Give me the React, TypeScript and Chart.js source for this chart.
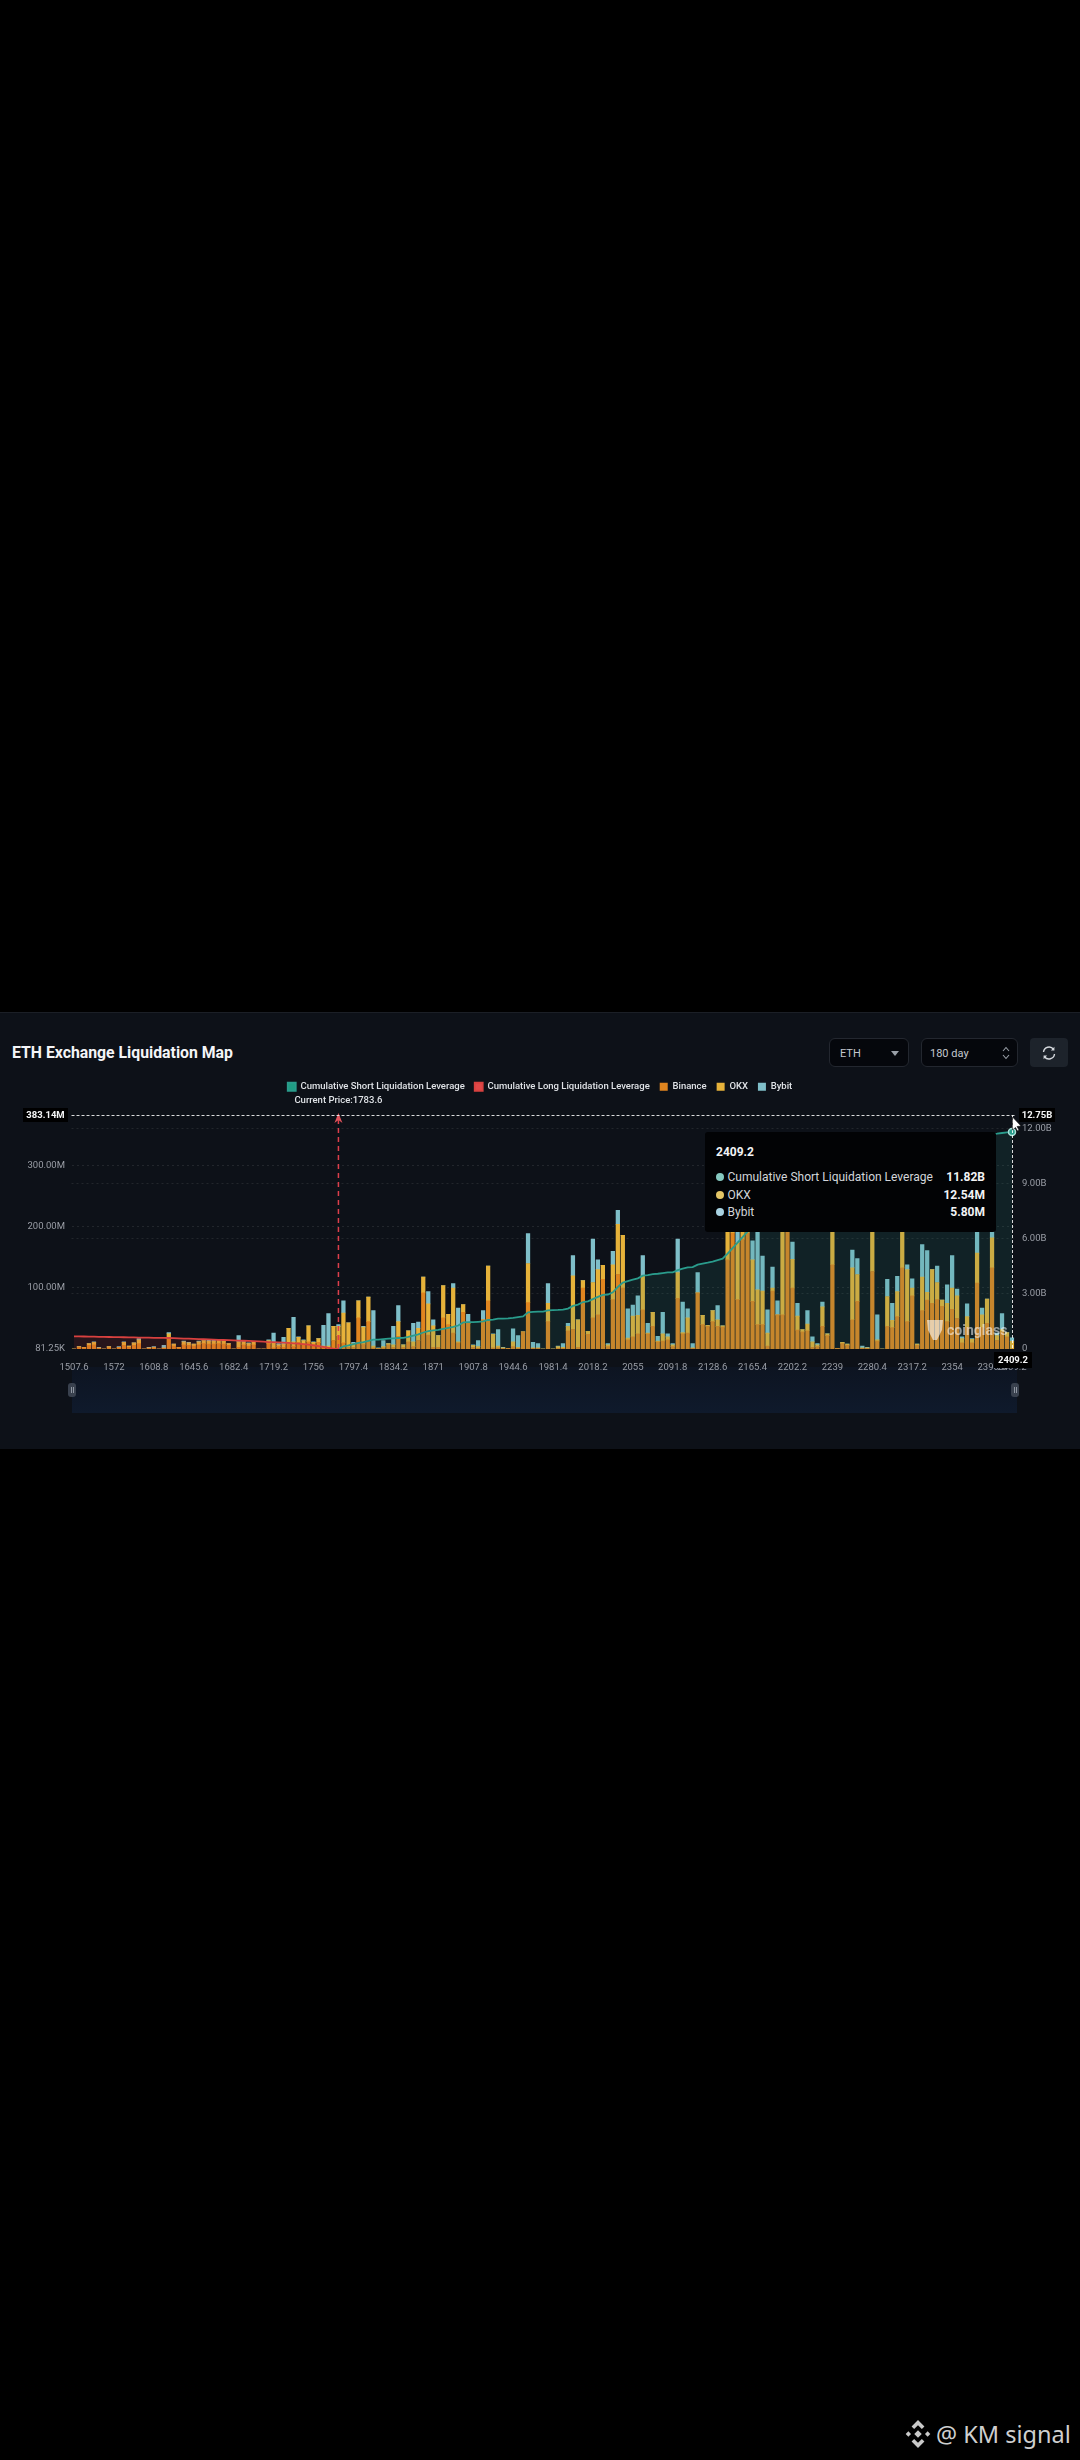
import React, { useEffect, useRef } from "react";
import { Chart, registerables } from "chart.js";

Chart.register(...registerables);

const prices = [
  1507.6, 1512.2, 1521.4, 1530.6, 1539.8, 1549, 1558.2, 1567.4, 1572,
  1576.6, 1581.2, 1585.8, 1590.4, 1595, 1599.6, 1604.2, 1608.8,
  1613.4, 1618, 1622.6, 1627.2, 1631.8, 1636.4, 1641, 1645.6,
  1650.2, 1654.8, 1659.4, 1664, 1668.6, 1673.2, 1677.8, 1682.4,
  1687, 1691.6, 1696.2, 1700.8, 1705.4, 1710, 1714.6, 1719.2,
  1723.8, 1728.4, 1733, 1737.6, 1742.2, 1746.8, 1751.4, 1756,
  1760.6, 1765.2, 1769.8, 1774.4, 1783.6, 1788.2, 1792.8, 1797.4,
  1802, 1806.6, 1811.2, 1815.8, 1820.4, 1825, 1829.6, 1834.2,
  1838.8, 1843.4, 1848, 1852.6, 1857.2, 1861.8, 1866.4, 1871,
  1875.6, 1880.2, 1884.8, 1889.4, 1894, 1898.6, 1903.2, 1907.8,
  1912.4, 1917, 1921.6, 1926.2, 1930.8, 1935.4, 1940, 1944.6,
  1949.2, 1953.8, 1958.4, 1963, 1967.6, 1972.2, 1976.8, 1981.4,
  1986, 1990.6, 1995.2, 1999.8, 2004.4, 2009, 2013.6, 2018.2,
  2022.8, 2027.4, 2032, 2036.6, 2041.2, 2045.8, 2050.4, 2055,
  2059.6, 2064.2, 2068.8, 2073.4, 2078, 2082.6, 2087.2, 2091.8,
  2096.4, 2101, 2105.6, 2110.2, 2114.8, 2119.4, 2124, 2128.6,
  2133.2, 2137.8, 2142.4, 2147, 2151.6, 2156.2, 2160.8, 2165.4,
  2170, 2174.6, 2179.2, 2183.8, 2188.4, 2193, 2197.6, 2202.2,
  2206.8, 2211.4, 2216, 2220.6, 2225.2, 2229.8, 2234.4, 2239,
  2243.6, 2248.2, 2252.8, 2257.4, 2262, 2266.6, 2275.8, 2280.4,
  2285, 2289.6, 2294.2, 2298.8, 2303.4, 2308, 2312.6, 2317.2,
  2321.8, 2326.4, 2331, 2335.6, 2340.2, 2344.8, 2349.4, 2354,
  2358.6, 2363.2, 2367.8, 2372.4, 2377, 2381.6, 2386.2, 2390.8,
  2395.4, 2400, 2404.6, 2409.2,
];

const xTickLabels = [
  1507.6, 1572, 1608.8, 1645.6, 1682.4, 1719.2, 1756, 1797.4, 1834.2, 1871, 1907.8, 1944.6,
  1981.4, 2018.2, 2055, 2091.8, 2128.6, 2165.4, 2202.2, 2239, 2280.4, 2317.2, 2354, 2390.8, 2409.2,
];

const binance = [
  0, 3, 2, 6, 7, 1, 0, 2, 0, 2,
  6, 3, 6, 9, 0, 1, 2, 0, 1, 18,
  5, 2, 7, 6, 5, 7, 9, 8, 8, 9,
  8, 6, 0, 3, 7, 5, 7, 0, 0, 9,
  2, 4, 3, 10, 4, 11, 8, 12, 8, 11,
  3, 3, 14, 22, 10, 3, 3, 51, 8, 45,
  2, 1, 2, 7, 3, 21, 3, 12, 4, 14,
  92, 23, 3, 3, 51, 40, 26, 10, 60, 42,
  3, 1, 48, 79, 2, 2, 1, 1, 4, 1,
  28, 76, 1, 1, 0, 45, 0, 1, 1, 30,
  32, 3, 100, 24, 51, 56, 114, 4, 81, 122,
  100, 15, 20, 25, 64, 25, 37, 12, 13, 15,
  4, 83, 25, 26, 1, 92, 40, 37, 45, 37,
  36, 146, 190, 81, 180, 190, 78, 40, 40, 5,
  95, 56, 56, 230, 100, 31, 28, 30, 3, 4,
  37, 22, 138, 1, 9, 6, 48, 78, 1, 1,
  127, 13, 0, 37, 35, 53, 133, 45, 87, 6,
  63, 80, 75, 81, 70, 45, 65, 50, 10, 35,
  10, 108, 35, 42, 133, 14, 28, 20, 0,
];

const okx = [
  0, 1, 1, 3, 4, 1, 0, 2, 0, 1,
  5, 2, 4, 6, 0, 1, 1, 0, 1, 7,
  3, 1, 5, 4, 3, 5, 5, 5, 5, 6,
  5, 3, 0, 9, 5, 4, 5, 0, 0, 5,
  8, 3, 5, 24, 8, 8, 6, 26, 3, 6,
  2, 2, 23, 15, 49, 40, 6, 28, 28, 40,
  3, 0, 2, 2, 4, 24, 4, 18, 8, 20,
  26, 51, 35, 19, 53, 17, 74, 2, 13, 0,
  3, 3, 0, 57, 22, 3, 1, 0, 8, 2,
  0, 64, 1, 1, 0, 30, 0, 3, 2, 7,
  88, 45, 12, 5, 58, 74, 23, 3, 57, 82,
  86, 3, 34, 30, 56, 1, 23, 1, 12, 5,
  3, 42, 2, 25, 1, 0, 15, 2, 18, 11,
  2, 100, 60, 93, 50, 30, 68, 57, 55, 21,
  5, 0, 190, 10, 47, 23, 4, 11, 9, 3,
  32, 3, 120, 0, 2, 2, 85, 44, 1, 1,
  130, 2, 0, 49, 12, 41, 120, 85, 13, 2,
  55, 13, 55, 28, 10, 30, 35, 37, 7, 18,
  6, 49, 21, 40, 49, 8, 4, 7, 12.54,
];

const bybit = [
  0, 0, 0, 0, 1, 1, 0, 0, 0, 1,
  1, 0, 0, 2, 0, 1, 1, 0, 4, 2,
  0, 0, 1, 1, 0, 1, 1, 2, 2, 1,
  1, 0, 0, 10, 2, 1, 0, 0, 0, 1,
  16, 2, 11, 0, 40, 1, 1, 0, 1, 0,
  34, 53, 0, 3, 20, 0, 2, 0, 1, 0,
  58, 1, 10, 0, 30, 26, 0, 0, 30, 10,
  0, 20, 10, 0, 0, 0, 7, 55, 0, 15,
  1, 10, 15, 0, 1, 27, 1, 0, 21, 19,
  0, 49, 9, 7, 0, 32, 0, 1, 6, 5,
  33, 0, 0, 0, 71, 16, 0, 2, 22, 23,
  0, 48, 18, 32, 33, 16, 0, 8, 35, 5,
  2, 55, 50, 15, 7, 33, 0, 0, 0, 23,
  0, 0, 0, 80, 10, 0, 31, 100, 57, 38,
  34, 23, 0, 0, 28, 21, 0, 22, 8, 2,
  8, 0, 0, 0, 0, 0, 29, 26, 3, 1,
  0, 41, 0, 28, 28, 25, 0, 8, 15, 0,
  53, 68, 0, 27, 0, 30, 53, 11, 3, 21,
  1, 40, 11, 0, 30, 4, 26, 0, 5.8,
];

const cumulativeLong = [
  0.69, 0.685, 0.68, 0.675, 0.67, 0.665, 0.66, 0.655, 0.65, 0.645,
  0.64, 0.635, 0.63, 0.625, 0.62, 0.615, 0.61, 0.605, 0.605, 0.6,
  0.59, 0.58, 0.57, 0.56, 0.55, 0.54, 0.53, 0.52, 0.51, 0.5,
  0.49, 0.48, 0.47, 0.46, 0.45, 0.44, 0.43, 0.42, 0.4, 0.38,
  0.37, 0.36, 0.35, 0.33, 0.31, 0.29, 0.27, 0.24, 0.2, 0.16,
  0.11, 0.06, 0.02, 0, null, null, null, null, null, null,
];

const cumulativeShort = [
  null, null, null, null, null, null, null, null, null, null,
  null, null, null, null, null, null, null, null, null, null,
  null, null, null, null, null, null, null, null, null, null,
  null, null, null, null, null, null, null, null, null, null,
  null, null, null, null, null, null, null, null, null, null,
  null, null, null, 0, 0.15, 0.2, 0.27, 0.33, 0.38, 0.44,
  0.51, 0.51, 0.54, 0.56, 0.58, 0.6, 0.61, 0.66, 0.73, 0.8,
  0.9, 0.98, 1.02, 1.04, 1.1, 1.15, 1.2, 1.28, 1.45, 1.46,
  1.46, 1.48, 1.5, 1.58, 1.6, 1.65, 1.66, 1.67, 1.7, 1.74,
  1.78, 2.0, 2.02, 2.04, 2.04, 2.1, 2.12, 2.13, 2.15, 2.2,
  2.35, 2.42, 2.56, 2.6, 2.72, 2.84, 2.95, 2.97, 3.09, 3.38,
  3.62, 3.7, 3.78, 3.85, 4.0, 4.03, 4.08, 4.1, 4.14, 4.17,
  4.18, 4.3, 4.38, 4.45, 4.46, 4.6, 4.65, 4.7, 4.76, 4.84,
  4.92, 5.2, 5.5, 5.8, 6.1, 6.4, 6.58, 6.77, 6.93, 6.99,
  7.12, 7.2, 7.45, 7.69, 7.86, 7.94, 7.97, 8.03, 8.05, 8.06,
  8.14, 8.16, 8.42, 8.42, 8.43, 8.44, 8.6, 8.75, 8.75, 8.76,
  9.01, 9.07, 9.07, 9.18, 9.26, 9.38, 9.63, 9.77, 9.88, 9.89,
  10.06, 10.22, 10.35, 10.49, 10.57, 10.67, 10.83, 10.93, 10.95, 11.02,
  11.08, 11.32, 11.42, 11.52, 11.7, 11.73, 11.77, 11.8, 11.82,
];

const leftTicks = [0.08125, 100, 200, 300];
const rightTicks = [0, 3, 6, 9, 12];
const leftTop = 383.14;
const rightTop = 12.75;
const currentPrice = 1783.6;
const hoverPrice = 2409.2;

const FONT = "Roboto, sans-serif";
const TICK = "#9a9ea6";

const overlayPlugin = {
  id: "overlay",
  beforeLayout(chart: any) {
    const l = chart.legend;
    if (l && !l.__patched) {
      const f = l.fit;
      l.fit = function () {
        f.call(this);
        this.height = 43;
      };
      l.__patched = true;
    }
  },
  afterDraw(chart: any) {
    const { ctx, scales, chartArea } = chart;
    const xs = scales.x;
    const ys = scales.y;
    const yTop = ys.getPixelForValue(leftTop);
    const yBase = chartArea.bottom;
    const xCur = xs.getPixelForValue(prices.indexOf(currentPrice));
    const xHover = xs.getPixelForValue(prices.indexOf(hoverPrice));
    ctx.save();

    // current price marker
    ctx.strokeStyle = "#dd3f4b";
    ctx.lineWidth = 1.5;
    ctx.setLineDash([5, 4]);
    ctx.beginPath();
    ctx.moveTo(xCur, yBase);
    ctx.lineTo(xCur, yTop + 4);
    ctx.stroke();
    ctx.setLineDash([]);
    ctx.fillStyle = "#e0535c";
    ctx.beginPath();
    ctx.moveTo(xCur, yTop - 2);
    ctx.lineTo(xCur + 4, yTop + 8);
    ctx.lineTo(xCur, yTop + 5);
    ctx.lineTo(xCur - 4, yTop + 8);
    ctx.closePath();
    ctx.fill();
    ctx.fillStyle = "#dfe2e6";
    ctx.font = `500 9.5px ${FONT}`;
    ctx.textAlign = "center";
    ctx.textBaseline = "middle";
    ctx.fillText(`Current Price:${currentPrice}`, xCur, 1101 - 1072);

    // crosshair
    ctx.strokeStyle = "rgba(255,255,255,0.85)";
    ctx.lineWidth = 1;
    ctx.setLineDash([3, 2]);
    ctx.beginPath();
    ctx.moveTo(chartArea.left, yTop + 0.5);
    ctx.lineTo(chartArea.right, yTop + 0.5);
    ctx.moveTo(xHover + 0.5, yTop);
    ctx.lineTo(xHover + 0.5, yBase);
    ctx.stroke();
    ctx.setLineDash([]);

    // watermark
    ctx.fillStyle = "rgba(255,255,255,0.55)";
    ctx.font = `700 14px ${FONT}`;
    ctx.textAlign = "left";
    ctx.fillText("coinglass", 947, 1331 - 1072);
    ctx.fillStyle = "rgba(255,255,255,0.6)";
    ctx.beginPath();
    const wy = 1320 - 1072;
    ctx.moveTo(927, wy);
    ctx.lineTo(943, wy);
    ctx.lineTo(942, wy + 10);
    ctx.lineTo(937, wy + 20);
    ctx.lineTo(933, wy + 20);
    ctx.lineTo(928, wy + 10);
    ctx.closePath();
    ctx.fill();

    // axis pointer labels
    const box = (text: string, x: number, y: number, w: number, h: number) => {
      ctx.fillStyle = "#000";
      ctx.fillRect(x, y, w, h);
      ctx.fillStyle = "#f5f6f7";
      ctx.font = `700 9.5px ${FONT}`;
      ctx.textAlign = "center";
      ctx.textBaseline = "middle";
      ctx.fillText(text, x + w / 2, y + h / 2 + 0.5);
    };
    box(`${leftTop.toFixed(2)}M`, 23, yTop - 7, 45, 14);
    box(`${rightTop.toFixed(2)}B`, 1019, yTop - 7, 36, 14);
    box(`${hoverPrice}`, 994, yBase + 3, 38, 16);

    // cursor
    ctx.fillStyle = "#fff";
    ctx.strokeStyle = "#111";
    ctx.lineWidth = 0.6;
    const cx = xHover + 0.5;
    const cy = yTop + 2;
    ctx.beginPath();
    ctx.moveTo(cx, cy);
    ctx.lineTo(cx, cy + 13);
    ctx.lineTo(cx + 3, cy + 10.5);
    ctx.lineTo(cx + 5, cy + 14);
    ctx.lineTo(cx + 6.5, cy + 13);
    ctx.lineTo(cx + 4.5, cy + 9.5);
    ctx.lineTo(cx + 8.5, cy + 9);
    ctx.closePath();
    ctx.fill();
    ctx.stroke();
    ctx.restore();
  },
};

const tooltipRows = [
  { dot: "#86c9c0", name: "Cumulative Short Liquidation Leverage", value: "11.82B" },
  { dot: "#e3c566", name: "OKX", value: "12.54M" },
  { dot: "#a9d3e3", name: "Bybit", value: "5.80M" },
];

const abs = (left: number, top: number, width: number, height: number): React.CSSProperties => ({
  position: "absolute",
  left,
  top,
  width,
  height,
  boxSizing: "border-box",
});

export default function App() {
  const ref = useRef<HTMLCanvasElement>(null);

  useEffect(() => {
    const lastIdx = prices.length - 1;
    const chart = new Chart(ref.current as HTMLCanvasElement, {
      type: "bar",
      plugins: [overlayPlugin],
      data: {
        labels: prices.map(String),
        datasets: [
          {
            type: "line",
            label: "Cumulative Short Liquidation Leverage",
            data: cumulativeShort,
            yAxisID: "y2",
            borderColor: "#2a9c8c",
            backgroundColor: "#1f9d84",
            borderWidth: 1.8,
            fill: { target: "origin", above: "rgba(40,140,130,0.14)" },
            pointRadius: (c: any) => (c.dataIndex === lastIdx ? 3.5 : 0),
            pointBackgroundColor: "#2a9c8c",
            pointBorderColor: "#a8ded6",
            pointBorderWidth: 1.5,
            order: 1,
          },
          {
            type: "line",
            label: "Cumulative Long Liquidation Leverage",
            data: cumulativeLong,
            yAxisID: "y2",
            borderColor: "#d8413f",
            backgroundColor: "#e04848",
            borderWidth: 1.8,
            fill: { target: "origin", above: "rgba(200,50,50,0.14)" },
            pointRadius: 0,
            order: 1,
          },
          { label: "Binance", data: binance, backgroundColor: "#e0851f", borderWidth: 0, yAxisID: "y", barThickness: 3.6, order: 2 },
          { label: "OKX", data: okx, backgroundColor: "#e6b23a", borderWidth: 0, yAxisID: "y", barThickness: 3.6, order: 2 },
          { label: "Bybit", data: bybit, backgroundColor: "#7fbfc9", borderWidth: 0, yAxisID: "y", barThickness: 3.6, order: 2 },
        ] as any,
      },
      options: {
        animation: false,
        responsive: false,
        maintainAspectRatio: false,
        events: [],
        layout: { padding: 0 },
        plugins: {
          tooltip: { enabled: false },
          legend: {
            display: true,
            position: "top",
            align: "center",
            labels: {
              color: "#dfe2e6",
              font: { family: FONT, size: 9.5, weight: "500" },
              boxWidth: 8,
              boxHeight: 8,
              padding: 10,
            },
          },
        },
        scales: {
          x: {
            stacked: true,
            offset: true,
            grid: { display: false },
            border: { display: false },
            afterFit: (s: any) => {
              s.height = 23;
            },
            ticks: {
              autoSkip: false,
              maxRotation: 0,
              minRotation: 0,
              padding: 5,
              color: TICK,
              font: { family: FONT, size: 9.5 },
              callback: (_v: any, i: number) => (xTickLabels.includes(prices[i]) ? String(prices[i]) : ""),
            },
          },
          y: {
            stacked: true,
            position: "left",
            min: leftTicks[0],
            max: leftTop,
            afterFit: (s: any) => {
              s.width = 71.5;
            },
            afterBuildTicks: (s: any) => {
              s.ticks = leftTicks.map((value) => ({ value }));
            },
            grid: {
              color: (c: any) => (c.tick.value < 1 ? "transparent" : "rgba(255,255,255,0.09)"),
              drawTicks: false,
            },
            border: { display: false, dash: [2, 3] },
            ticks: {
              padding: 6.5,
              color: TICK,
              font: { family: FONT, size: 9.5 },
              callback: (v: any) => (v < 1 ? "81.25K" : `${Number(v).toFixed(2)}M`),
            },
          },
          y2: {
            position: "right",
            min: rightTicks[0],
            max: rightTop,
            afterFit: (s: any) => {
              s.width = 65.5;
            },
            afterBuildTicks: (s: any) => {
              s.ticks = rightTicks.map((value) => ({ value }));
            },
            grid: {
              color: (c: any) => (c.tick.value === 0 ? "transparent" : "rgba(255,255,255,0.09)"),
              drawTicks: false,
            },
            border: { display: false, dash: [2, 3] },
            ticks: {
              padding: 7.5,
              color: TICK,
              font: { family: FONT, size: 9.5 },
              callback: (v: any) => (v === 0 ? "0" : `${Number(v).toFixed(2)}B`),
            },
          },
        },
      } as any,
    });
    return () => chart.destroy();
  }, []);

  const ctlText: React.CSSProperties = { fontFamily: FONT, fontSize: 11, color: "#c4c8cf", position: "absolute", top: 0, lineHeight: "29px" };

  return (
    <div style={{ ...abs(0, 0, 1080, 2460), background: "#000", overflow: "hidden" }}>
      {/* panel */}
      <div style={{ ...abs(0, 1012, 1080, 437), background: "#0d1118", borderTop: "1px solid #1b1f26" }} />
      <div style={{ ...abs(12, 1041, 300, 24), fontFamily: FONT, fontWeight: 700, fontSize: 15.8, lineHeight: "24px", color: "#f4f5f7", whiteSpace: "nowrap" }}>
        ETH Exchange Liquidation Map
      </div>

      {/* ETH select */}
      <div style={{ ...abs(829, 1038, 80, 29), background: "#05070c", border: "1px solid #23272f", borderRadius: 6 }}>
        <span style={{ ...ctlText, left: 10 }}>ETH</span>
        <svg width="8" height="5" style={{ position: "absolute", left: 61, top: 12 }}>
          <path d="M0 0 L8 0 L4 5 Z" fill="#9aa0a8" />
        </svg>
      </div>
      {/* period select */}
      <div style={{ ...abs(921, 1038, 97, 29), background: "#05070c", border: "1px solid #23272f", borderRadius: 6 }}>
        <span style={{ ...ctlText, left: 8 }}>180 day</span>
        <svg width="8" height="14" style={{ position: "absolute", left: 80, top: 7 }}>
          <path d="M1 5 L4 1.5 L7 5 M1 9 L4 12.5 L7 9" stroke="#9aa0a8" strokeWidth="1.1" fill="none" />
        </svg>
      </div>
      {/* refresh */}
      <div style={{ ...abs(1030, 1038, 38, 29), background: "#1d232b", borderRadius: 4 }}>
        <svg width="16" height="16" viewBox="0 0 16 16" style={{ position: "absolute", left: 11, top: 7 }}>
          <path d="M2.5 7 A5.6 5.6 0 0 1 12.5 4.2 M13.5 9 A5.6 5.6 0 0 1 3.5 11.8" stroke="#d4d8dd" strokeWidth="1.4" fill="none" />
          <path d="M13.4 1.8 L13.4 5.4 L9.9 5.4 Z M2.6 14.2 L2.6 10.6 L6.1 10.6 Z" fill="#d4d8dd" />
        </svg>
      </div>

      {/* dataZoom slider */}
      <div style={{ ...abs(72, 1367, 945, 46), background: "linear-gradient(#0d1421, #0f1a2c)" }} />
      {[72, 1015].map((x) => (
        <div key={x} style={{ ...abs(x - 4, 1383, 8, 14), background: "#39414e", borderRadius: 3 }}>
          <div style={{ ...abs(2.5, 4, 3, 6), borderLeft: "1px solid #8f96a1", borderRight: "1px solid #8f96a1" }} />
        </div>
      ))}

      {/* chart */}
      <canvas ref={ref} width={1080} height={300} style={{ position: "absolute", left: 0, top: 1072, width: 1080, height: 300, display: "block" }} />

      {/* tooltip */}
      <div style={{ ...abs(705, 1132, 291, 100), background: "#020305", borderRadius: 3, fontFamily: FONT, color: "#e6e8eb" }}>
        <div style={{ position: "absolute", left: 11, top: 12, fontSize: 12, fontWeight: 700, lineHeight: "16px", color: "#f2f3f5" }}>2409.2</div>
        {tooltipRows.map((r, i) => (
          <div key={r.name} style={{ ...abs(0, [37, 55, 72][i], 291, 16), lineHeight: "16px", fontSize: 12 }}>
            <span style={{ position: "absolute", left: 11, top: 4, width: 8, height: 8, borderRadius: 4, background: r.dot, boxSizing: "border-box" }} />
            <span style={{ position: "absolute", left: 22.5, whiteSpace: "nowrap", color: "#d3d6da" }}>{r.name}</span>
            <span style={{ position: "absolute", right: 11, fontWeight: 700, color: "#f2f3f5" }}>{r.value}</span>
          </div>
        ))}
      </div>

      {/* footer watermark */}
      <svg width="30" height="30" viewBox="0 0 28 28" style={{ position: "absolute", left: 903, top: 2419 }}>
        <g fill="#c9c9c9">
          <path d="M14 1 L20 7 L17.6 9.4 L14 5.8 L10.4 9.4 L8 7 Z" />
          <path d="M14 27 L20 21 L17.6 18.6 L14 22.2 L10.4 18.6 L8 21 Z" />
          <path d="M5 11.5 L7.5 14 L5 16.5 L2.5 14 Z" />
          <path d="M23 11.5 L25.5 14 L23 16.5 L20.5 14 Z" />
          <path d="M14 10.5 L17.5 14 L14 17.5 L10.5 14 Z" />
        </g>
      </svg>
      <div style={{ ...abs(936, 2416, 144, 36), fontFamily: "'Noto Sans', sans-serif", fontSize: 23.5, lineHeight: "36px", color: "#cfcfcf", whiteSpace: "nowrap" }}>
        @ KM signal
      </div>
    </div>
  );
}
